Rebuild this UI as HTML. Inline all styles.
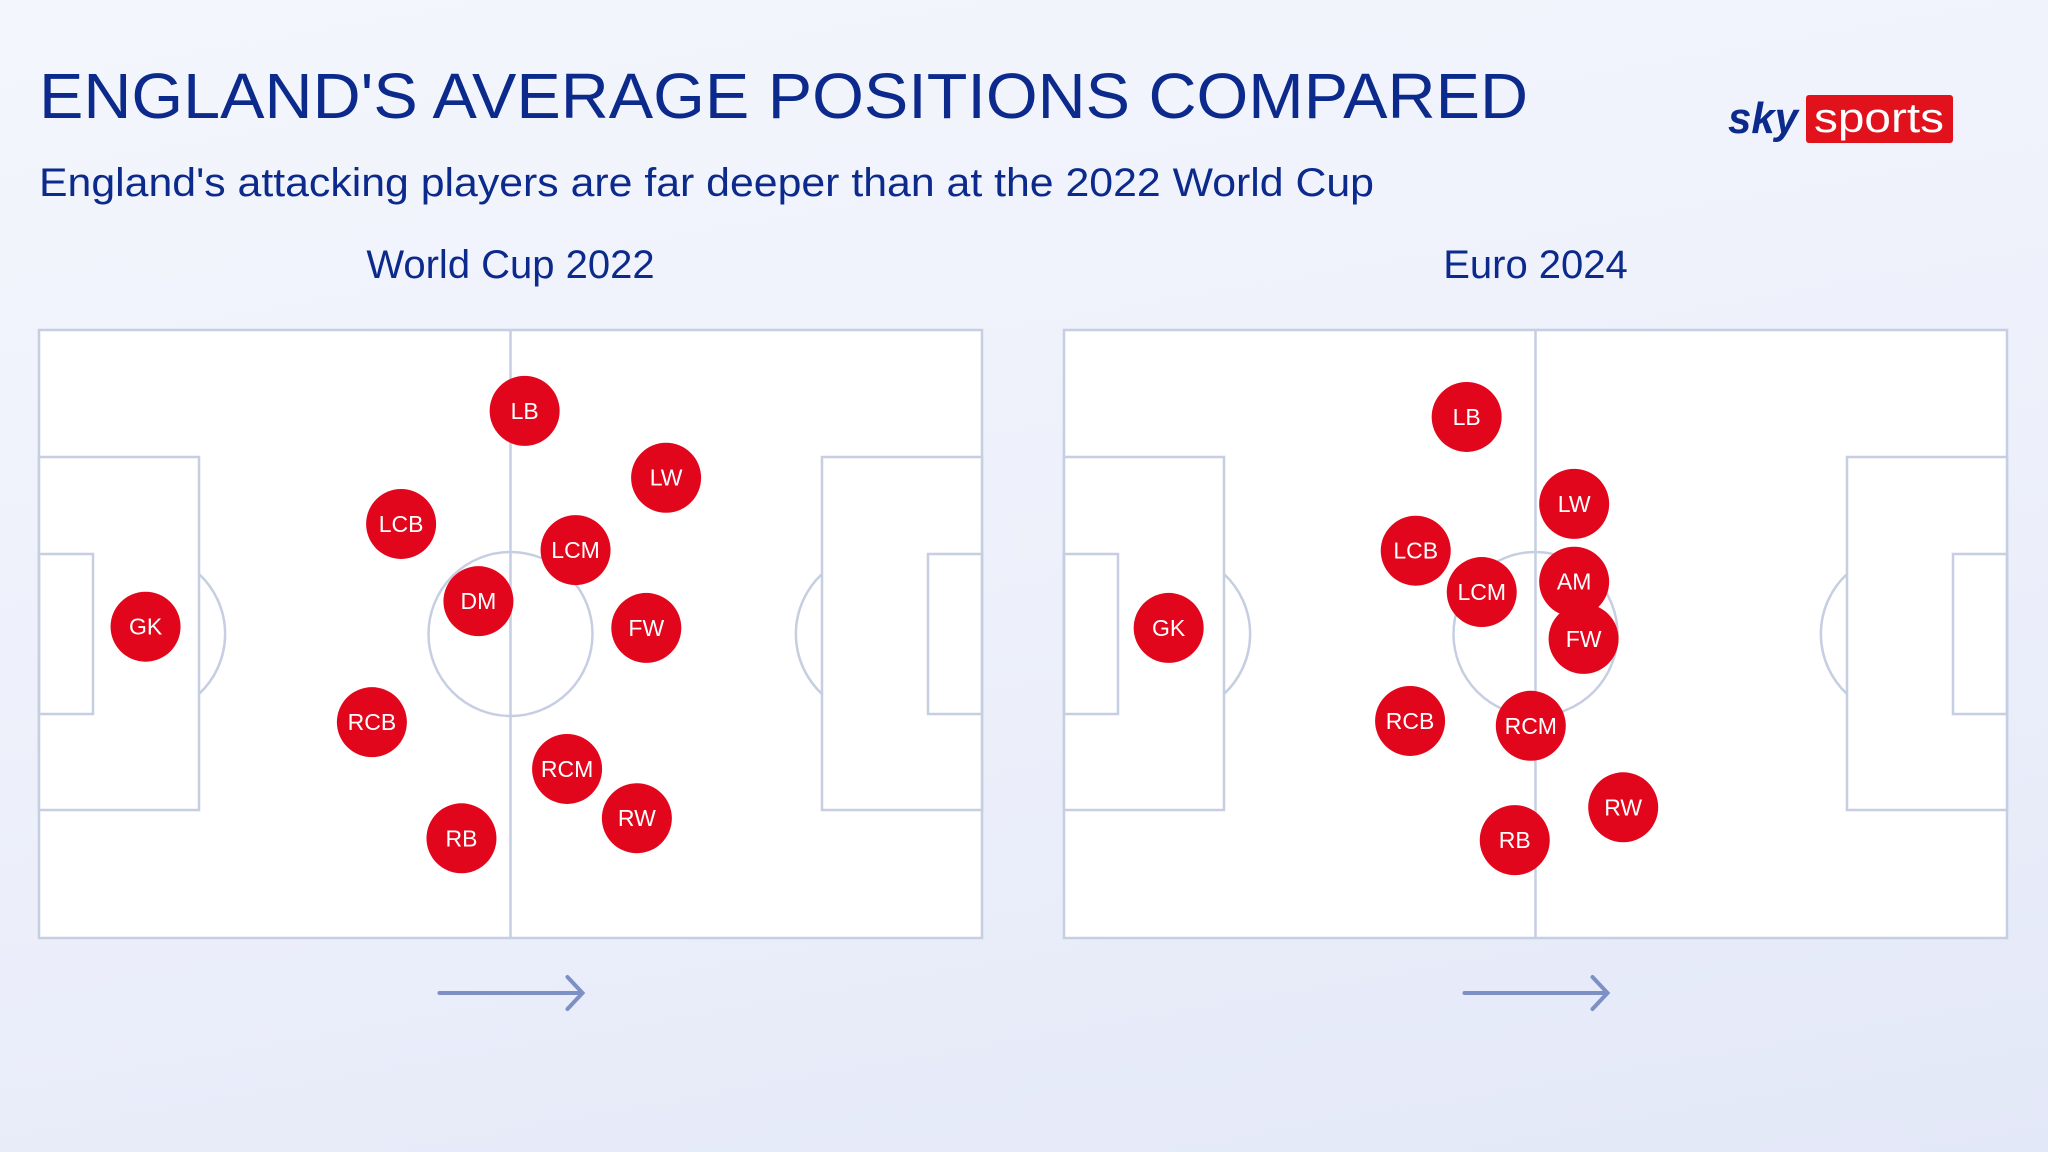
<!DOCTYPE html>
<html><head><meta charset="utf-8"><style>
html,body{margin:0;padding:0;width:2048px;height:1152px;overflow:hidden;background:linear-gradient(170deg,#f4f6fd 0%,#eceffa 60%,#e3e8f8 100%);}
svg{display:block}
</style></head><body>
<svg id="chart" width="2048" height="1152" viewBox="0 0 2048 1152" font-family="'Liberation Sans', sans-serif">
<text x="39" y="118" font-size="64" fill="#0b2a8c" textLength="1489" lengthAdjust="spacingAndGlyphs">ENGLAND'S AVERAGE POSITIONS COMPARED</text>
<text x="39" y="196" font-size="40" fill="#0b2a8c" textLength="1335" lengthAdjust="spacingAndGlyphs">England's attacking players are far deeper than at the 2022 World Cup</text>
<g>
<text x="1728" y="133" font-size="44" font-weight="bold" font-style="italic" fill="#0b2a8c" textLength="70" lengthAdjust="spacingAndGlyphs">sky</text>
<rect x="1806" y="95" width="147" height="48" rx="3" fill="#e2121c"/>
<text x="1879" y="132" font-size="42" fill="#fff" text-anchor="middle" textLength="130" lengthAdjust="spacingAndGlyphs">sports</text>
</g>
<g id="pitches"></g>
</svg>
<script>
const tournaments = ["World Cup 2022", "Euro 2024"];
const positions1 = ["LB","LW","LCB","LCM","DM","GK","FW","RCB","RCM","RW","RB"];
const xs1 = [51.5,66.5,38.4,56.9,46.6,11.3,64.4,35.3,56.0,63.4,44.8];
const ys1 = [13.3,24.3,31.9,36.2,44.6,48.8,49.0,64.5,72.2,80.3,83.6];
const positions2 = ["LB","LW","LCB","AM","LCM","GK","FW","RCB","RCM","RW","RB"];
const xs2 = [42.7,54.1,37.3,54.1,44.3,11.1,55.1,36.7,49.5,59.3,47.8];
const ys2 = [14.3,28.6,36.3,41.4,43.1,49.0,50.8,64.3,65.1,78.5,83.9];

const NS = "http://www.w3.org/2000/svg";
const root = document.getElementById('pitches');
const pitchLefts = [39, 1064], PW = 943, PH = 608, PT = 330;
const LC = "#c6cee2";
function mk(tag, attrs, parent){const e=document.createElementNS(NS,tag);for(const k in attrs)e.setAttribute(k,attrs[k]);parent.appendChild(e);return e;}
const sets = [[positions1,xs1,ys1],[positions2,xs2,ys2]];
tournaments.forEach((t,i)=>{
  const L = pitchLefts[i];
  const sx = v => L + v/100*PW;
  const sy = v => PT + v/100*PH;
  const g = mk('g',{},root);
  
  
  const title = mk('text',{x:L+PW/2,y:278,'font-size':40,fill:'#0b2a8c','text-anchor':'middle'},g);
  title.textContent = t;
  
  
  const pitch = mk('g',{fill:'none',stroke:LC,'stroke-width':2.5},g);
  
  
  const cy = PT+PH/2, cx = L+PW/2;
  mk('rect',{x:L,y:PT,width:PW,height:PH,fill:'#fff'},pitch);
  mk('line',{x1:cx,y1:PT,x2:cx,y2:PT+PH},pitch);
  mk('circle',{cx:cx,cy:cy,r:82},pitch);
  // left boxes
  mk('path',{d:`M${L+160},${cy-60} A82,82 0 0 1 ${L+160},${cy+60}`},pitch);
  mk('rect',{x:L,y:457,width:160,height:353,fill:'#fff'},pitch);
  mk('rect',{x:L,y:554,width:54,height:160},pitch);
  // right boxes
  mk('path',{d:`M${L+PW-160},${cy-60} A82,82 0 0 0 ${L+PW-160},${cy+60}`},pitch);
  mk('rect',{x:L+PW-160,y:457,width:160,height:353,fill:'#fff'},pitch);
  mk('rect',{x:L+PW-54,y:554,width:54,height:160},pitch);
  // arrow
  const ar = mk('g',{stroke:'#7d90c6','stroke-width':4,fill:'none','stroke-linecap':'round'},g);
  
  
  mk('line',{x1:cx-71,y1:993,x2:cx+71,y2:993},ar);
  mk('path',{d:`M${cx+57},977 L${cx+72},993 L${cx+57},1009`},ar);
  const [ps,xs,ys] = sets[i];
  ps.forEach((p,j)=>{
    const pg = mk('g',{},g);
    
    
    mk('circle',{cx:sx(xs[j]),cy:sy(ys[j]),r:35,fill:'#e2061c'},pg);
    const tx = mk('text',{x:sx(xs[j]),y:sy(ys[j])+8,'font-size':23,fill:'#fff','text-anchor':'middle'},pg);
    tx.textContent = p;
  });
});
</script>
</body></html>
